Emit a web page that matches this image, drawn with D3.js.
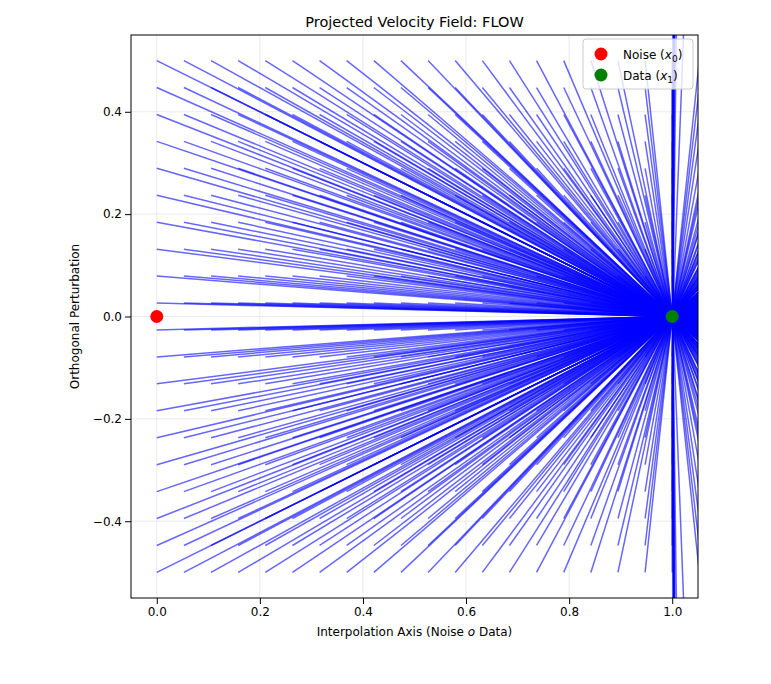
<!DOCTYPE html>
<html><head><meta charset="utf-8">
<script src="https://cdn.jsdelivr.net/npm/d3@7"></script>
<style>body{margin:0;background:#fff;font-family:"DejaVu Sans",sans-serif;}</style>
</head><body><div id="chart"></div>
<script>
// grid sample positions (20 x 20)
const gridX = [0, 0.0526, 0.1053, 0.1579, 0.2105, 0.2632, 0.3158, 0.3684, 0.4211, 0.4737,
    0.5263, 0.5789, 0.6316, 0.6842, 0.7368, 0.7895, 0.8421, 0.8947, 0.9474, 1.0];
const gridY = [-0.5, -0.4474, -0.3947, -0.3421, -0.2895, -0.2368, -0.1842, -0.1316, -0.0789, -0.0263,
    0.0263, 0.0789, 0.1316, 0.1842, 0.2368, 0.2895, 0.3421, 0.3947, 0.4474, 0.5];
const noisePoint = [0, 0];
const dataPoint = [1, 0];
const xTicks = [0.0, 0.2, 0.4, 0.6, 0.8, 1.0];
const yTicks = [-0.4, -0.2, 0.0, 0.2, 0.4];

const width = 771, height = 684;
const margin = {top: 35, left: 131, right: 73, bottom: 86};
const w = width - margin.left - margin.right;
const h = height - margin.top - margin.bottom;

const x = d3.scaleLinear().domain([-0.05, 1.05]).range([0, w]);
const y = d3.scaleLinear().domain([-0.55, 0.55]).range([h, 0]);

const svg = d3.select('#chart').append('svg')
    .attr('width', width).attr('height', height)
    .append('g')
    .attr('transform', `translate(${margin.left},${margin.top})`);

svg.append('defs').append('clipPath').attr('id', 'clip')
    .append('rect').attr('width', w).attr('height', h);

// grid
svg.append('g').selectAll('line').data(xTicks).enter().append('line')
    .attr('x1', d => x(d)).attr('x2', d => x(d)).attr('y1', 0).attr('y2', h)
    .attr('stroke', '#e5e5e5').attr('stroke-width', 0.8);
svg.append('g').selectAll('line').data(yTicks).enter().append('line')
    .attr('y1', d => y(d)).attr('y2', d => y(d)).attr('x1', 0).attr('x2', w)
    .attr('stroke', '#e5e5e5').attr('stroke-width', 0.8);

// velocity vectors: v = (x1 - x) / (1 - t), with t = x
const arrows = [];
gridX.forEach(gx => gridY.forEach(gy => {
    const denom = Math.max(dataPoint[0] - gx, 1e-3);
    arrows.push({x0: gx, y0: gy, x1: gx + 1, y1: gy + (dataPoint[1] - gy) / denom});
}));

svg.append('g').attr('clip-path', 'url(#clip)')
    .selectAll('line').data(arrows).enter().append('line')
    .attr('x1', d => x(d.x0)).attr('y1', d => y(d.y0))
    .attr('x2', d => x(d.x1)).attr('y2', d => y(d.y1))
    .attr('stroke', 'blue').attr('stroke-opacity', 0.6).attr('stroke-width', 1.5);

svg.append('circle').attr('cx', x(noisePoint[0])).attr('cy', y(noisePoint[1])).attr('r', 6.5).attr('fill', 'red');
svg.append('circle').attr('cx', x(dataPoint[0])).attr('cy', y(dataPoint[1])).attr('r', 6.5).attr('fill', 'green');

const xAxis = d3.axisBottom(x).tickValues(xTicks).tickFormat(d3.format('.1f')).tickSizeOuter(0);
const yAxis = d3.axisLeft(y).tickValues(yTicks).tickFormat(d => d3.format('.1f')(d).replace('-', '\u2212')).tickSizeOuter(0);

svg.append('g').attr('transform', `translate(0,${h})`).call(xAxis);
svg.append('g').call(yAxis);
svg.selectAll('.tick text').attr('font-size', 12).attr('font-family', 'DejaVu Sans').attr('fill', '#000');
svg.selectAll('.domain').remove();
svg.append('rect').attr('width', w).attr('height', h).attr('fill', 'none').attr('stroke', '#000').attr('stroke-width', 1);

svg.append('text').attr('x', w / 2).attr('y', -8).attr('text-anchor', 'middle')
    .attr('font-size', 14.5).text('Projected Velocity Field: FLOW');
const xl = svg.append('text').attr('x', w / 2).attr('y', h + 38).attr('text-anchor', 'middle').attr('font-size', 12);
xl.append('tspan').text('Interpolation Axis (Noise ');
xl.append('tspan').attr('font-style', 'italic').text('o');
xl.append('tspan').text(' Data)');
svg.append('text').attr('transform', `translate(-52,${h / 2}) rotate(-90)`).attr('text-anchor', 'middle')
    .attr('font-size', 12).text('Orthogonal Perturbation');

// legend
const lg = svg.append('g').attr('transform', `translate(${w - 115},4)`);
lg.append('rect').attr('width', 110).attr('height', 50).attr('rx', 3)
    .attr('fill', '#fff').attr('fill-opacity', 0.8).attr('stroke', '#ccc');
const items = [{c: 'red', n: 'Noise', s: '0'}, {c: 'green', n: 'Data', s: '1'}];
items.forEach((it, i) => {
    const gy = 15 + i * 21;
    lg.append('circle').attr('cx', 18).attr('cy', gy).attr('r', 6.5).attr('fill', it.c);
    const t = lg.append('text').attr('x', 40).attr('y', gy + 4.5).attr('font-size', 12);
    t.append('tspan').text(it.n + ' (');
    t.append('tspan').attr('font-style', 'italic').text('x');
    t.append('tspan').attr('font-size', 9).attr('dy', 3).text(it.s);
    t.append('tspan').attr('dy', -3).text(')');
});
</script></body></html>
